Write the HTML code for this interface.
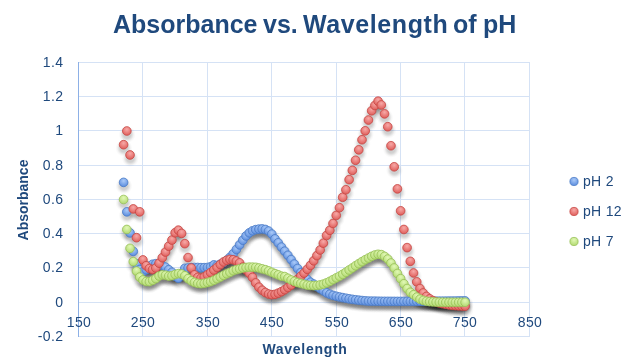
<!DOCTYPE html>
<html><head><meta charset="utf-8"><style>
html,body{margin:0;padding:0;background:#fff;}
body{width:629px;height:362px;position:relative;overflow:hidden;font-family:"Liberation Sans",sans-serif;color:#1F497D;}
.t{position:absolute;top:12px;font-weight:bold;font-size:25px;line-height:25px;white-space:nowrap;}
.yl{position:absolute;left:0;width:63.5px;text-align:right;font-size:14px;line-height:16px;letter-spacing:0.4px;}
.xl{position:absolute;top:314px;width:60px;text-align:center;font-size:14px;line-height:16px;letter-spacing:0.4px;}
.xt{position:absolute;left:205px;top:341px;width:200px;text-align:center;font-weight:bold;font-size:14px;line-height:16px;letter-spacing:0.7px;}
.yt{position:absolute;left:23px;top:200px;width:0;height:0;}
.yt span{position:absolute;left:-60px;top:-8px;width:120px;text-align:center;font-weight:bold;font-size:14px;line-height:16px;transform:rotate(-90deg);}
.lg{position:absolute;left:583px;font-size:14px;line-height:16px;letter-spacing:0.3px;}
svg{position:absolute;left:0;top:0;}
.t,.yl,.xl,.xt,.yt span,.lg{will-change:transform;}
</style></head><body>
<svg width="629" height="362" viewBox="0 0 629 362">
<defs><radialGradient id="gb" cx="50%" cy="32%" r="65%"><stop offset="0" stop-color="#abcaf8"/><stop offset="1" stop-color="#5e8fdf"/></radialGradient><radialGradient id="gr" cx="50%" cy="32%" r="65%"><stop offset="0" stop-color="#f7a9a7"/><stop offset="1" stop-color="#e0605d"/></radialGradient><radialGradient id="gg" cx="50%" cy="32%" r="65%"><stop offset="0" stop-color="#e2f9b6"/><stop offset="1" stop-color="#b3da73"/></radialGradient><radialGradient id="shg"><stop offset="0" stop-color="#000" stop-opacity="0.2"/><stop offset="0.45" stop-color="#000" stop-opacity="0.18000000000000002"/><stop offset="0.62" stop-color="#000" stop-opacity="0.11000000000000001"/><stop offset="0.8" stop-color="#000" stop-opacity="0.036"/><stop offset="1" stop-color="#000" stop-opacity="0"/></radialGradient>
<filter id="sh" x="-10%" y="-10%" width="120%" height="120%"><feGaussianBlur stdDeviation="2"/></filter>
</defs>
<g stroke="#d5e2f5" stroke-width="1"><line x1="78" y1="62.5" x2="530" y2="62.5"/><line x1="78" y1="96.5" x2="530" y2="96.5"/><line x1="78" y1="130.5" x2="530" y2="130.5"/><line x1="78" y1="165.5" x2="530" y2="165.5"/><line x1="78" y1="199.5" x2="530" y2="199.5"/><line x1="78" y1="233.5" x2="530" y2="233.5"/><line x1="78" y1="267.5" x2="530" y2="267.5"/><line x1="78" y1="302.5" x2="530" y2="302.5"/><line x1="78" y1="336.5" x2="530" y2="336.5"/><line x1="142.5" y1="62" x2="142.5" y2="337"/><line x1="207.5" y1="62" x2="207.5" y2="337"/><line x1="271.5" y1="62" x2="271.5" y2="337"/><line x1="336.5" y1="62" x2="336.5" y2="337"/><line x1="400.5" y1="62" x2="400.5" y2="337"/><line x1="464.5" y1="62" x2="464.5" y2="337"/><line x1="529.5" y1="62" x2="529.5" y2="337"/></g>
<line x1="78.5" y1="62" x2="78.5" y2="337" stroke="#8db0e6" stroke-width="1"/>
<g fill="url(#shg)" transform="translate(0.3,3.5)"><circle cx="123.60" cy="182.38" r="8.5"/><circle cx="126.82" cy="211.83" r="8.5"/><circle cx="130.04" cy="232.89" r="8.5"/><circle cx="133.26" cy="251.39" r="8.5"/><circle cx="136.49" cy="263.72" r="8.5"/><circle cx="139.71" cy="269.71" r="8.5"/><circle cx="142.93" cy="271.77" r="8.5"/><circle cx="146.15" cy="269.71" r="8.5"/><circle cx="149.37" cy="266.29" r="8.5"/><circle cx="152.59" cy="264.23" r="8.5"/><circle cx="155.81" cy="263.72" r="8.5"/><circle cx="159.04" cy="264.23" r="8.5"/><circle cx="162.26" cy="265.77" r="8.5"/><circle cx="165.48" cy="267.14" r="8.5"/><circle cx="168.70" cy="269.71" r="8.5"/><circle cx="171.92" cy="272.28" r="8.5"/><circle cx="175.14" cy="276.22" r="8.5"/><circle cx="178.36" cy="278.27" r="8.5"/><circle cx="181.59" cy="273.99" r="8.5"/><circle cx="184.81" cy="268.34" r="8.5"/><circle cx="188.03" cy="268.00" r="8.5"/><circle cx="191.25" cy="267.66" r="8.5"/><circle cx="194.47" cy="267.49" r="8.5"/><circle cx="197.69" cy="267.49" r="8.5"/><circle cx="200.91" cy="267.66" r="8.5"/><circle cx="204.14" cy="267.66" r="8.5"/><circle cx="207.36" cy="267.49" r="8.5"/><circle cx="210.58" cy="266.80" r="8.5"/><circle cx="213.80" cy="264.92" r="8.5"/><circle cx="217.02" cy="265.43" r="8.5"/><circle cx="220.24" cy="264.23" r="8.5"/><circle cx="223.46" cy="262.52" r="8.5"/><circle cx="226.69" cy="260.29" r="8.5"/><circle cx="229.91" cy="257.38" r="8.5"/><circle cx="233.13" cy="253.79" r="8.5"/><circle cx="236.35" cy="249.50" r="8.5"/><circle cx="239.57" cy="244.88" r="8.5"/><circle cx="242.79" cy="240.26" r="8.5"/><circle cx="246.01" cy="235.98" r="8.5"/><circle cx="249.24" cy="232.89" r="8.5"/><circle cx="252.46" cy="230.84" r="8.5"/><circle cx="255.68" cy="229.64" r="8.5"/><circle cx="258.90" cy="229.13" r="8.5"/><circle cx="262.12" cy="228.95" r="8.5"/><circle cx="265.34" cy="229.47" r="8.5"/><circle cx="268.56" cy="231.01" r="8.5"/><circle cx="271.79" cy="234.09" r="8.5"/><circle cx="275.01" cy="238.89" r="8.5"/><circle cx="278.23" cy="242.83" r="8.5"/><circle cx="281.45" cy="247.11" r="8.5"/><circle cx="284.67" cy="251.22" r="8.5"/><circle cx="287.89" cy="255.33" r="8.5"/><circle cx="291.11" cy="259.61" r="8.5"/><circle cx="294.34" cy="264.06" r="8.5"/><circle cx="297.56" cy="268.51" r="8.5"/><circle cx="300.78" cy="272.62" r="8.5"/><circle cx="304.00" cy="276.22" r="8.5"/><circle cx="307.22" cy="279.47" r="8.5"/><circle cx="310.44" cy="282.21" r="8.5"/><circle cx="313.66" cy="284.10" r="8.5"/><circle cx="316.89" cy="286.49" r="8.5"/><circle cx="320.11" cy="288.55" r="8.5"/><circle cx="323.33" cy="290.78" r="8.5"/><circle cx="326.55" cy="292.83" r="8.5"/><circle cx="329.77" cy="294.20" r="8.5"/><circle cx="332.99" cy="295.40" r="8.5"/><circle cx="336.21" cy="296.26" r="8.5"/><circle cx="339.44" cy="296.98" r="8.5"/><circle cx="342.66" cy="297.63" r="8.5"/><circle cx="345.88" cy="298.24" r="8.5"/><circle cx="349.10" cy="298.83" r="8.5"/><circle cx="352.32" cy="299.34" r="8.5"/><circle cx="355.54" cy="299.79" r="8.5"/><circle cx="358.76" cy="300.19" r="8.5"/><circle cx="361.99" cy="300.54" r="8.5"/><circle cx="365.21" cy="300.85" r="8.5"/><circle cx="368.43" cy="301.05" r="8.5"/><circle cx="371.65" cy="301.12" r="8.5"/><circle cx="374.87" cy="301.18" r="8.5"/><circle cx="378.09" cy="301.23" r="8.5"/><circle cx="381.31" cy="301.28" r="8.5"/><circle cx="384.54" cy="301.31" r="8.5"/><circle cx="387.76" cy="301.34" r="8.5"/><circle cx="390.98" cy="301.37" r="8.5"/><circle cx="394.20" cy="301.38" r="8.5"/><circle cx="397.42" cy="301.39" r="8.5"/><circle cx="400.64" cy="301.39" r="8.5"/><circle cx="403.86" cy="301.39" r="8.5"/><circle cx="407.09" cy="301.38" r="8.5"/><circle cx="410.31" cy="301.37" r="8.5"/><circle cx="413.53" cy="301.36" r="8.5"/><circle cx="416.75" cy="301.34" r="8.5"/><circle cx="419.97" cy="301.32" r="8.5"/><circle cx="423.19" cy="301.29" r="8.5"/><circle cx="426.41" cy="301.27" r="8.5"/><circle cx="429.64" cy="301.25" r="8.5"/><circle cx="432.86" cy="301.22" r="8.5"/><circle cx="436.08" cy="301.20" r="8.5"/><circle cx="439.30" cy="301.17" r="8.5"/><circle cx="442.52" cy="301.14" r="8.5"/><circle cx="445.74" cy="301.11" r="8.5"/><circle cx="448.96" cy="301.08" r="8.5"/><circle cx="452.19" cy="301.04" r="8.5"/><circle cx="455.41" cy="301.00" r="8.5"/><circle cx="458.63" cy="300.96" r="8.5"/><circle cx="461.85" cy="300.92" r="8.5"/><circle cx="465.07" cy="300.88" r="8.5"/><circle cx="123.60" cy="144.70" r="8.5"/><circle cx="126.82" cy="131.00" r="8.5"/><circle cx="130.04" cy="154.97" r="8.5"/><circle cx="133.26" cy="208.92" r="8.5"/><circle cx="136.49" cy="237.69" r="8.5"/><circle cx="139.71" cy="211.83" r="8.5"/><circle cx="142.93" cy="259.95" r="8.5"/><circle cx="146.15" cy="265.77" r="8.5"/><circle cx="149.37" cy="268.51" r="8.5"/><circle cx="152.59" cy="269.54" r="8.5"/><circle cx="155.81" cy="268.00" r="8.5"/><circle cx="159.04" cy="263.20" r="8.5"/><circle cx="162.26" cy="257.72" r="8.5"/><circle cx="165.48" cy="252.07" r="8.5"/><circle cx="168.70" cy="246.25" r="8.5"/><circle cx="171.92" cy="240.09" r="8.5"/><circle cx="175.14" cy="232.72" r="8.5"/><circle cx="178.36" cy="230.15" r="8.5"/><circle cx="181.59" cy="233.41" r="8.5"/><circle cx="184.81" cy="243.68" r="8.5"/><circle cx="188.03" cy="257.55" r="8.5"/><circle cx="191.25" cy="268.00" r="8.5"/><circle cx="194.47" cy="274.85" r="8.5"/><circle cx="197.69" cy="277.42" r="8.5"/><circle cx="200.91" cy="278.27" r="8.5"/><circle cx="204.14" cy="277.08" r="8.5"/><circle cx="207.36" cy="274.85" r="8.5"/><circle cx="210.58" cy="272.62" r="8.5"/><circle cx="213.80" cy="270.05" r="8.5"/><circle cx="217.02" cy="267.49" r="8.5"/><circle cx="220.24" cy="264.57" r="8.5"/><circle cx="223.46" cy="262.01" r="8.5"/><circle cx="226.69" cy="260.29" r="8.5"/><circle cx="229.91" cy="259.44" r="8.5"/><circle cx="233.13" cy="259.78" r="8.5"/><circle cx="236.35" cy="260.98" r="8.5"/><circle cx="239.57" cy="262.86" r="8.5"/><circle cx="242.79" cy="267.14" r="8.5"/><circle cx="246.01" cy="269.71" r="8.5"/><circle cx="249.24" cy="273.14" r="8.5"/><circle cx="252.46" cy="277.42" r="8.5"/><circle cx="255.68" cy="282.90" r="8.5"/><circle cx="258.90" cy="287.18" r="8.5"/><circle cx="262.12" cy="290.26" r="8.5"/><circle cx="265.34" cy="292.49" r="8.5"/><circle cx="268.56" cy="294.03" r="8.5"/><circle cx="271.79" cy="294.71" r="8.5"/><circle cx="275.01" cy="294.37" r="8.5"/><circle cx="278.23" cy="293.17" r="8.5"/><circle cx="281.45" cy="291.63" r="8.5"/><circle cx="284.67" cy="289.75" r="8.5"/><circle cx="287.89" cy="287.52" r="8.5"/><circle cx="291.11" cy="285.12" r="8.5"/><circle cx="294.34" cy="282.38" r="8.5"/><circle cx="297.56" cy="279.30" r="8.5"/><circle cx="300.78" cy="276.22" r="8.5"/><circle cx="304.00" cy="273.14" r="8.5"/><circle cx="307.22" cy="269.37" r="8.5"/><circle cx="310.44" cy="265.43" r="8.5"/><circle cx="313.66" cy="260.81" r="8.5"/><circle cx="316.89" cy="255.67" r="8.5"/><circle cx="320.11" cy="250.02" r="8.5"/><circle cx="323.33" cy="243.17" r="8.5"/><circle cx="326.55" cy="235.46" r="8.5"/><circle cx="329.77" cy="230.32" r="8.5"/><circle cx="332.99" cy="223.47" r="8.5"/><circle cx="336.21" cy="215.43" r="8.5"/><circle cx="339.44" cy="207.72" r="8.5"/><circle cx="342.66" cy="197.27" r="8.5"/><circle cx="345.88" cy="189.74" r="8.5"/><circle cx="349.10" cy="179.63" r="8.5"/><circle cx="352.32" cy="170.39" r="8.5"/><circle cx="355.54" cy="160.28" r="8.5"/><circle cx="358.76" cy="149.84" r="8.5"/><circle cx="361.99" cy="139.73" r="8.5"/><circle cx="365.21" cy="130.83" r="8.5"/><circle cx="368.43" cy="120.04" r="8.5"/><circle cx="371.65" cy="110.79" r="8.5"/><circle cx="374.87" cy="105.48" r="8.5"/><circle cx="378.09" cy="101.20" r="8.5"/><circle cx="381.31" cy="104.97" r="8.5"/><circle cx="384.54" cy="113.87" r="8.5"/><circle cx="387.76" cy="126.72" r="8.5"/><circle cx="390.98" cy="145.73" r="8.5"/><circle cx="394.20" cy="166.79" r="8.5"/><circle cx="397.42" cy="188.88" r="8.5"/><circle cx="400.64" cy="210.80" r="8.5"/><circle cx="403.86" cy="229.47" r="8.5"/><circle cx="407.09" cy="247.62" r="8.5"/><circle cx="410.31" cy="261.32" r="8.5"/><circle cx="413.53" cy="272.97" r="8.5"/><circle cx="416.75" cy="281.87" r="8.5"/><circle cx="419.97" cy="288.55" r="8.5"/><circle cx="423.19" cy="293.00" r="8.5"/><circle cx="426.41" cy="296.43" r="8.5"/><circle cx="429.64" cy="298.82" r="8.5"/><circle cx="432.86" cy="300.54" r="8.5"/><circle cx="436.08" cy="301.91" r="8.5"/><circle cx="439.30" cy="302.93" r="8.5"/><circle cx="442.52" cy="303.68" r="8.5"/><circle cx="445.74" cy="304.30" r="8.5"/><circle cx="448.96" cy="304.88" r="8.5"/><circle cx="452.19" cy="305.33" r="8.5"/><circle cx="455.41" cy="305.62" r="8.5"/><circle cx="458.63" cy="305.85" r="8.5"/><circle cx="461.85" cy="306.04" r="8.5"/><circle cx="465.07" cy="306.19" r="8.5"/><circle cx="123.60" cy="199.50" r="8.5"/><circle cx="126.82" cy="229.47" r="8.5"/><circle cx="130.04" cy="248.31" r="8.5"/><circle cx="133.26" cy="261.66" r="8.5"/><circle cx="136.49" cy="271.08" r="8.5"/><circle cx="139.71" cy="277.08" r="8.5"/><circle cx="142.93" cy="279.99" r="8.5"/><circle cx="146.15" cy="281.53" r="8.5"/><circle cx="149.37" cy="281.70" r="8.5"/><circle cx="152.59" cy="280.33" r="8.5"/><circle cx="155.81" cy="278.62" r="8.5"/><circle cx="159.04" cy="276.05" r="8.5"/><circle cx="162.26" cy="274.85" r="8.5"/><circle cx="165.48" cy="275.19" r="8.5"/><circle cx="168.70" cy="276.05" r="8.5"/><circle cx="171.92" cy="275.71" r="8.5"/><circle cx="175.14" cy="274.51" r="8.5"/><circle cx="178.36" cy="273.65" r="8.5"/><circle cx="181.59" cy="273.99" r="8.5"/><circle cx="184.81" cy="275.71" r="8.5"/><circle cx="188.03" cy="278.62" r="8.5"/><circle cx="191.25" cy="280.84" r="8.5"/><circle cx="194.47" cy="282.38" r="8.5"/><circle cx="197.69" cy="283.41" r="8.5"/><circle cx="200.91" cy="283.75" r="8.5"/><circle cx="204.14" cy="283.41" r="8.5"/><circle cx="207.36" cy="282.56" r="8.5"/><circle cx="210.58" cy="281.70" r="8.5"/><circle cx="213.80" cy="280.33" r="8.5"/><circle cx="217.02" cy="278.79" r="8.5"/><circle cx="220.24" cy="277.08" r="8.5"/><circle cx="223.46" cy="275.36" r="8.5"/><circle cx="226.69" cy="273.82" r="8.5"/><circle cx="229.91" cy="272.45" r="8.5"/><circle cx="233.13" cy="270.74" r="8.5"/><circle cx="236.35" cy="269.71" r="8.5"/><circle cx="239.57" cy="268.86" r="8.5"/><circle cx="242.79" cy="268.00" r="8.5"/><circle cx="246.01" cy="267.49" r="8.5"/><circle cx="249.24" cy="267.14" r="8.5"/><circle cx="252.46" cy="267.14" r="8.5"/><circle cx="255.68" cy="267.31" r="8.5"/><circle cx="258.90" cy="268.00" r="8.5"/><circle cx="262.12" cy="268.86" r="8.5"/><circle cx="265.34" cy="269.71" r="8.5"/><circle cx="268.56" cy="270.91" r="8.5"/><circle cx="271.79" cy="272.28" r="8.5"/><circle cx="275.01" cy="273.65" r="8.5"/><circle cx="278.23" cy="274.85" r="8.5"/><circle cx="281.45" cy="276.22" r="8.5"/><circle cx="284.67" cy="276.56" r="8.5"/><circle cx="287.89" cy="278.27" r="8.5"/><circle cx="291.11" cy="279.99" r="8.5"/><circle cx="294.34" cy="281.36" r="8.5"/><circle cx="297.56" cy="282.56" r="8.5"/><circle cx="300.78" cy="283.41" r="8.5"/><circle cx="304.00" cy="284.27" r="8.5"/><circle cx="307.22" cy="285.12" r="8.5"/><circle cx="310.44" cy="285.47" r="8.5"/><circle cx="313.66" cy="285.64" r="8.5"/><circle cx="316.89" cy="285.47" r="8.5"/><circle cx="320.11" cy="284.95" r="8.5"/><circle cx="323.33" cy="284.10" r="8.5"/><circle cx="326.55" cy="282.90" r="8.5"/><circle cx="329.77" cy="281.36" r="8.5"/><circle cx="332.99" cy="279.64" r="8.5"/><circle cx="336.21" cy="277.93" r="8.5"/><circle cx="339.44" cy="276.22" r="8.5"/><circle cx="342.66" cy="274.34" r="8.5"/><circle cx="345.88" cy="272.28" r="8.5"/><circle cx="349.10" cy="270.05" r="8.5"/><circle cx="352.32" cy="268.00" r="8.5"/><circle cx="355.54" cy="265.77" r="8.5"/><circle cx="358.76" cy="263.72" r="8.5"/><circle cx="361.99" cy="261.66" r="8.5"/><circle cx="365.21" cy="259.78" r="8.5"/><circle cx="368.43" cy="258.07" r="8.5"/><circle cx="371.65" cy="256.35" r="8.5"/><circle cx="374.87" cy="254.98" r="8.5"/><circle cx="378.09" cy="254.30" r="8.5"/><circle cx="381.31" cy="254.64" r="8.5"/><circle cx="384.54" cy="256.35" r="8.5"/><circle cx="387.76" cy="259.09" r="8.5"/><circle cx="390.98" cy="263.03" r="8.5"/><circle cx="394.20" cy="268.00" r="8.5"/><circle cx="397.42" cy="273.48" r="8.5"/><circle cx="400.64" cy="278.62" r="8.5"/><circle cx="403.86" cy="283.75" r="8.5"/><circle cx="407.09" cy="288.55" r="8.5"/><circle cx="410.31" cy="292.32" r="8.5"/><circle cx="413.53" cy="294.71" r="8.5"/><circle cx="416.75" cy="297.11" r="8.5"/><circle cx="419.97" cy="299.17" r="8.5"/><circle cx="423.19" cy="300.37" r="8.5"/><circle cx="426.41" cy="301.22" r="8.5"/><circle cx="429.64" cy="301.66" r="8.5"/><circle cx="432.86" cy="301.91" r="8.5"/><circle cx="436.08" cy="302.04" r="8.5"/><circle cx="439.30" cy="302.15" r="8.5"/><circle cx="442.52" cy="302.22" r="8.5"/><circle cx="445.74" cy="302.25" r="8.5"/><circle cx="448.96" cy="302.25" r="8.5"/><circle cx="452.19" cy="302.25" r="8.5"/><circle cx="455.41" cy="302.25" r="8.5"/><circle cx="458.63" cy="302.25" r="8.5"/><circle cx="461.85" cy="302.25" r="8.5"/><circle cx="465.07" cy="302.25" r="8.5"/></g>
<g fill="url(#gb)" stroke="#4a7bc6" stroke-width="0.8"><circle cx="123.60" cy="182.38" r="4.35"/><circle cx="126.82" cy="211.83" r="4.35"/><circle cx="130.04" cy="232.89" r="4.35"/><circle cx="133.26" cy="251.39" r="4.35"/><circle cx="136.49" cy="263.72" r="4.35"/><circle cx="139.71" cy="269.71" r="4.35"/><circle cx="142.93" cy="271.77" r="4.35"/><circle cx="146.15" cy="269.71" r="4.35"/><circle cx="149.37" cy="266.29" r="4.35"/><circle cx="152.59" cy="264.23" r="4.35"/><circle cx="155.81" cy="263.72" r="4.35"/><circle cx="159.04" cy="264.23" r="4.35"/><circle cx="162.26" cy="265.77" r="4.35"/><circle cx="165.48" cy="267.14" r="4.35"/><circle cx="168.70" cy="269.71" r="4.35"/><circle cx="171.92" cy="272.28" r="4.35"/><circle cx="175.14" cy="276.22" r="4.35"/><circle cx="178.36" cy="278.27" r="4.35"/><circle cx="181.59" cy="273.99" r="4.35"/><circle cx="184.81" cy="268.34" r="4.35"/><circle cx="188.03" cy="268.00" r="4.35"/><circle cx="191.25" cy="267.66" r="4.35"/><circle cx="194.47" cy="267.49" r="4.35"/><circle cx="197.69" cy="267.49" r="4.35"/><circle cx="200.91" cy="267.66" r="4.35"/><circle cx="204.14" cy="267.66" r="4.35"/><circle cx="207.36" cy="267.49" r="4.35"/><circle cx="210.58" cy="266.80" r="4.35"/><circle cx="213.80" cy="264.92" r="4.35"/><circle cx="217.02" cy="265.43" r="4.35"/><circle cx="220.24" cy="264.23" r="4.35"/><circle cx="223.46" cy="262.52" r="4.35"/><circle cx="226.69" cy="260.29" r="4.35"/><circle cx="229.91" cy="257.38" r="4.35"/><circle cx="233.13" cy="253.79" r="4.35"/><circle cx="236.35" cy="249.50" r="4.35"/><circle cx="239.57" cy="244.88" r="4.35"/><circle cx="242.79" cy="240.26" r="4.35"/><circle cx="246.01" cy="235.98" r="4.35"/><circle cx="249.24" cy="232.89" r="4.35"/><circle cx="252.46" cy="230.84" r="4.35"/><circle cx="255.68" cy="229.64" r="4.35"/><circle cx="258.90" cy="229.13" r="4.35"/><circle cx="262.12" cy="228.95" r="4.35"/><circle cx="265.34" cy="229.47" r="4.35"/><circle cx="268.56" cy="231.01" r="4.35"/><circle cx="271.79" cy="234.09" r="4.35"/><circle cx="275.01" cy="238.89" r="4.35"/><circle cx="278.23" cy="242.83" r="4.35"/><circle cx="281.45" cy="247.11" r="4.35"/><circle cx="284.67" cy="251.22" r="4.35"/><circle cx="287.89" cy="255.33" r="4.35"/><circle cx="291.11" cy="259.61" r="4.35"/><circle cx="294.34" cy="264.06" r="4.35"/><circle cx="297.56" cy="268.51" r="4.35"/><circle cx="300.78" cy="272.62" r="4.35"/><circle cx="304.00" cy="276.22" r="4.35"/><circle cx="307.22" cy="279.47" r="4.35"/><circle cx="310.44" cy="282.21" r="4.35"/><circle cx="313.66" cy="284.10" r="4.35"/><circle cx="316.89" cy="286.49" r="4.35"/><circle cx="320.11" cy="288.55" r="4.35"/><circle cx="323.33" cy="290.78" r="4.35"/><circle cx="326.55" cy="292.83" r="4.35"/><circle cx="329.77" cy="294.20" r="4.35"/><circle cx="332.99" cy="295.40" r="4.35"/><circle cx="336.21" cy="296.26" r="4.35"/><circle cx="339.44" cy="296.98" r="4.35"/><circle cx="342.66" cy="297.63" r="4.35"/><circle cx="345.88" cy="298.24" r="4.35"/><circle cx="349.10" cy="298.83" r="4.35"/><circle cx="352.32" cy="299.34" r="4.35"/><circle cx="355.54" cy="299.79" r="4.35"/><circle cx="358.76" cy="300.19" r="4.35"/><circle cx="361.99" cy="300.54" r="4.35"/><circle cx="365.21" cy="300.85" r="4.35"/><circle cx="368.43" cy="301.05" r="4.35"/><circle cx="371.65" cy="301.12" r="4.35"/><circle cx="374.87" cy="301.18" r="4.35"/><circle cx="378.09" cy="301.23" r="4.35"/><circle cx="381.31" cy="301.28" r="4.35"/><circle cx="384.54" cy="301.31" r="4.35"/><circle cx="387.76" cy="301.34" r="4.35"/><circle cx="390.98" cy="301.37" r="4.35"/><circle cx="394.20" cy="301.38" r="4.35"/><circle cx="397.42" cy="301.39" r="4.35"/><circle cx="400.64" cy="301.39" r="4.35"/><circle cx="403.86" cy="301.39" r="4.35"/><circle cx="407.09" cy="301.38" r="4.35"/><circle cx="410.31" cy="301.37" r="4.35"/><circle cx="413.53" cy="301.36" r="4.35"/><circle cx="416.75" cy="301.34" r="4.35"/><circle cx="419.97" cy="301.32" r="4.35"/><circle cx="423.19" cy="301.29" r="4.35"/><circle cx="426.41" cy="301.27" r="4.35"/><circle cx="429.64" cy="301.25" r="4.35"/><circle cx="432.86" cy="301.22" r="4.35"/><circle cx="436.08" cy="301.20" r="4.35"/><circle cx="439.30" cy="301.17" r="4.35"/><circle cx="442.52" cy="301.14" r="4.35"/><circle cx="445.74" cy="301.11" r="4.35"/><circle cx="448.96" cy="301.08" r="4.35"/><circle cx="452.19" cy="301.04" r="4.35"/><circle cx="455.41" cy="301.00" r="4.35"/><circle cx="458.63" cy="300.96" r="4.35"/><circle cx="461.85" cy="300.92" r="4.35"/><circle cx="465.07" cy="300.88" r="4.35"/></g><g fill="url(#gr)" stroke="#c64643" stroke-width="0.8"><circle cx="123.60" cy="144.70" r="4.35"/><circle cx="126.82" cy="131.00" r="4.35"/><circle cx="130.04" cy="154.97" r="4.35"/><circle cx="133.26" cy="208.92" r="4.35"/><circle cx="136.49" cy="237.69" r="4.35"/><circle cx="139.71" cy="211.83" r="4.35"/><circle cx="142.93" cy="259.95" r="4.35"/><circle cx="146.15" cy="265.77" r="4.35"/><circle cx="149.37" cy="268.51" r="4.35"/><circle cx="152.59" cy="269.54" r="4.35"/><circle cx="155.81" cy="268.00" r="4.35"/><circle cx="159.04" cy="263.20" r="4.35"/><circle cx="162.26" cy="257.72" r="4.35"/><circle cx="165.48" cy="252.07" r="4.35"/><circle cx="168.70" cy="246.25" r="4.35"/><circle cx="171.92" cy="240.09" r="4.35"/><circle cx="175.14" cy="232.72" r="4.35"/><circle cx="178.36" cy="230.15" r="4.35"/><circle cx="181.59" cy="233.41" r="4.35"/><circle cx="184.81" cy="243.68" r="4.35"/><circle cx="188.03" cy="257.55" r="4.35"/><circle cx="191.25" cy="268.00" r="4.35"/><circle cx="194.47" cy="274.85" r="4.35"/><circle cx="197.69" cy="277.42" r="4.35"/><circle cx="200.91" cy="278.27" r="4.35"/><circle cx="204.14" cy="277.08" r="4.35"/><circle cx="207.36" cy="274.85" r="4.35"/><circle cx="210.58" cy="272.62" r="4.35"/><circle cx="213.80" cy="270.05" r="4.35"/><circle cx="217.02" cy="267.49" r="4.35"/><circle cx="220.24" cy="264.57" r="4.35"/><circle cx="223.46" cy="262.01" r="4.35"/><circle cx="226.69" cy="260.29" r="4.35"/><circle cx="229.91" cy="259.44" r="4.35"/><circle cx="233.13" cy="259.78" r="4.35"/><circle cx="236.35" cy="260.98" r="4.35"/><circle cx="239.57" cy="262.86" r="4.35"/><circle cx="242.79" cy="267.14" r="4.35"/><circle cx="246.01" cy="269.71" r="4.35"/><circle cx="249.24" cy="273.14" r="4.35"/><circle cx="252.46" cy="277.42" r="4.35"/><circle cx="255.68" cy="282.90" r="4.35"/><circle cx="258.90" cy="287.18" r="4.35"/><circle cx="262.12" cy="290.26" r="4.35"/><circle cx="265.34" cy="292.49" r="4.35"/><circle cx="268.56" cy="294.03" r="4.35"/><circle cx="271.79" cy="294.71" r="4.35"/><circle cx="275.01" cy="294.37" r="4.35"/><circle cx="278.23" cy="293.17" r="4.35"/><circle cx="281.45" cy="291.63" r="4.35"/><circle cx="284.67" cy="289.75" r="4.35"/><circle cx="287.89" cy="287.52" r="4.35"/><circle cx="291.11" cy="285.12" r="4.35"/><circle cx="294.34" cy="282.38" r="4.35"/><circle cx="297.56" cy="279.30" r="4.35"/><circle cx="300.78" cy="276.22" r="4.35"/><circle cx="304.00" cy="273.14" r="4.35"/><circle cx="307.22" cy="269.37" r="4.35"/><circle cx="310.44" cy="265.43" r="4.35"/><circle cx="313.66" cy="260.81" r="4.35"/><circle cx="316.89" cy="255.67" r="4.35"/><circle cx="320.11" cy="250.02" r="4.35"/><circle cx="323.33" cy="243.17" r="4.35"/><circle cx="326.55" cy="235.46" r="4.35"/><circle cx="329.77" cy="230.32" r="4.35"/><circle cx="332.99" cy="223.47" r="4.35"/><circle cx="336.21" cy="215.43" r="4.35"/><circle cx="339.44" cy="207.72" r="4.35"/><circle cx="342.66" cy="197.27" r="4.35"/><circle cx="345.88" cy="189.74" r="4.35"/><circle cx="349.10" cy="179.63" r="4.35"/><circle cx="352.32" cy="170.39" r="4.35"/><circle cx="355.54" cy="160.28" r="4.35"/><circle cx="358.76" cy="149.84" r="4.35"/><circle cx="361.99" cy="139.73" r="4.35"/><circle cx="365.21" cy="130.83" r="4.35"/><circle cx="368.43" cy="120.04" r="4.35"/><circle cx="371.65" cy="110.79" r="4.35"/><circle cx="374.87" cy="105.48" r="4.35"/><circle cx="378.09" cy="101.20" r="4.35"/><circle cx="381.31" cy="104.97" r="4.35"/><circle cx="384.54" cy="113.87" r="4.35"/><circle cx="387.76" cy="126.72" r="4.35"/><circle cx="390.98" cy="145.73" r="4.35"/><circle cx="394.20" cy="166.79" r="4.35"/><circle cx="397.42" cy="188.88" r="4.35"/><circle cx="400.64" cy="210.80" r="4.35"/><circle cx="403.86" cy="229.47" r="4.35"/><circle cx="407.09" cy="247.62" r="4.35"/><circle cx="410.31" cy="261.32" r="4.35"/><circle cx="413.53" cy="272.97" r="4.35"/><circle cx="416.75" cy="281.87" r="4.35"/><circle cx="419.97" cy="288.55" r="4.35"/><circle cx="423.19" cy="293.00" r="4.35"/><circle cx="426.41" cy="296.43" r="4.35"/><circle cx="429.64" cy="298.82" r="4.35"/><circle cx="432.86" cy="300.54" r="4.35"/><circle cx="436.08" cy="301.91" r="4.35"/><circle cx="439.30" cy="302.93" r="4.35"/><circle cx="442.52" cy="303.68" r="4.35"/><circle cx="445.74" cy="304.30" r="4.35"/><circle cx="448.96" cy="304.88" r="4.35"/><circle cx="452.19" cy="305.33" r="4.35"/><circle cx="455.41" cy="305.62" r="4.35"/><circle cx="458.63" cy="305.85" r="4.35"/><circle cx="461.85" cy="306.04" r="4.35"/><circle cx="465.07" cy="306.19" r="4.35"/></g><g fill="url(#gg)" stroke="#97c056" stroke-width="0.8"><circle cx="123.60" cy="199.50" r="4.35"/><circle cx="126.82" cy="229.47" r="4.35"/><circle cx="130.04" cy="248.31" r="4.35"/><circle cx="133.26" cy="261.66" r="4.35"/><circle cx="136.49" cy="271.08" r="4.35"/><circle cx="139.71" cy="277.08" r="4.35"/><circle cx="142.93" cy="279.99" r="4.35"/><circle cx="146.15" cy="281.53" r="4.35"/><circle cx="149.37" cy="281.70" r="4.35"/><circle cx="152.59" cy="280.33" r="4.35"/><circle cx="155.81" cy="278.62" r="4.35"/><circle cx="159.04" cy="276.05" r="4.35"/><circle cx="162.26" cy="274.85" r="4.35"/><circle cx="165.48" cy="275.19" r="4.35"/><circle cx="168.70" cy="276.05" r="4.35"/><circle cx="171.92" cy="275.71" r="4.35"/><circle cx="175.14" cy="274.51" r="4.35"/><circle cx="178.36" cy="273.65" r="4.35"/><circle cx="181.59" cy="273.99" r="4.35"/><circle cx="184.81" cy="275.71" r="4.35"/><circle cx="188.03" cy="278.62" r="4.35"/><circle cx="191.25" cy="280.84" r="4.35"/><circle cx="194.47" cy="282.38" r="4.35"/><circle cx="197.69" cy="283.41" r="4.35"/><circle cx="200.91" cy="283.75" r="4.35"/><circle cx="204.14" cy="283.41" r="4.35"/><circle cx="207.36" cy="282.56" r="4.35"/><circle cx="210.58" cy="281.70" r="4.35"/><circle cx="213.80" cy="280.33" r="4.35"/><circle cx="217.02" cy="278.79" r="4.35"/><circle cx="220.24" cy="277.08" r="4.35"/><circle cx="223.46" cy="275.36" r="4.35"/><circle cx="226.69" cy="273.82" r="4.35"/><circle cx="229.91" cy="272.45" r="4.35"/><circle cx="233.13" cy="270.74" r="4.35"/><circle cx="236.35" cy="269.71" r="4.35"/><circle cx="239.57" cy="268.86" r="4.35"/><circle cx="242.79" cy="268.00" r="4.35"/><circle cx="246.01" cy="267.49" r="4.35"/><circle cx="249.24" cy="267.14" r="4.35"/><circle cx="252.46" cy="267.14" r="4.35"/><circle cx="255.68" cy="267.31" r="4.35"/><circle cx="258.90" cy="268.00" r="4.35"/><circle cx="262.12" cy="268.86" r="4.35"/><circle cx="265.34" cy="269.71" r="4.35"/><circle cx="268.56" cy="270.91" r="4.35"/><circle cx="271.79" cy="272.28" r="4.35"/><circle cx="275.01" cy="273.65" r="4.35"/><circle cx="278.23" cy="274.85" r="4.35"/><circle cx="281.45" cy="276.22" r="4.35"/><circle cx="284.67" cy="276.56" r="4.35"/><circle cx="287.89" cy="278.27" r="4.35"/><circle cx="291.11" cy="279.99" r="4.35"/><circle cx="294.34" cy="281.36" r="4.35"/><circle cx="297.56" cy="282.56" r="4.35"/><circle cx="300.78" cy="283.41" r="4.35"/><circle cx="304.00" cy="284.27" r="4.35"/><circle cx="307.22" cy="285.12" r="4.35"/><circle cx="310.44" cy="285.47" r="4.35"/><circle cx="313.66" cy="285.64" r="4.35"/><circle cx="316.89" cy="285.47" r="4.35"/><circle cx="320.11" cy="284.95" r="4.35"/><circle cx="323.33" cy="284.10" r="4.35"/><circle cx="326.55" cy="282.90" r="4.35"/><circle cx="329.77" cy="281.36" r="4.35"/><circle cx="332.99" cy="279.64" r="4.35"/><circle cx="336.21" cy="277.93" r="4.35"/><circle cx="339.44" cy="276.22" r="4.35"/><circle cx="342.66" cy="274.34" r="4.35"/><circle cx="345.88" cy="272.28" r="4.35"/><circle cx="349.10" cy="270.05" r="4.35"/><circle cx="352.32" cy="268.00" r="4.35"/><circle cx="355.54" cy="265.77" r="4.35"/><circle cx="358.76" cy="263.72" r="4.35"/><circle cx="361.99" cy="261.66" r="4.35"/><circle cx="365.21" cy="259.78" r="4.35"/><circle cx="368.43" cy="258.07" r="4.35"/><circle cx="371.65" cy="256.35" r="4.35"/><circle cx="374.87" cy="254.98" r="4.35"/><circle cx="378.09" cy="254.30" r="4.35"/><circle cx="381.31" cy="254.64" r="4.35"/><circle cx="384.54" cy="256.35" r="4.35"/><circle cx="387.76" cy="259.09" r="4.35"/><circle cx="390.98" cy="263.03" r="4.35"/><circle cx="394.20" cy="268.00" r="4.35"/><circle cx="397.42" cy="273.48" r="4.35"/><circle cx="400.64" cy="278.62" r="4.35"/><circle cx="403.86" cy="283.75" r="4.35"/><circle cx="407.09" cy="288.55" r="4.35"/><circle cx="410.31" cy="292.32" r="4.35"/><circle cx="413.53" cy="294.71" r="4.35"/><circle cx="416.75" cy="297.11" r="4.35"/><circle cx="419.97" cy="299.17" r="4.35"/><circle cx="423.19" cy="300.37" r="4.35"/><circle cx="426.41" cy="301.22" r="4.35"/><circle cx="429.64" cy="301.66" r="4.35"/><circle cx="432.86" cy="301.91" r="4.35"/><circle cx="436.08" cy="302.04" r="4.35"/><circle cx="439.30" cy="302.15" r="4.35"/><circle cx="442.52" cy="302.22" r="4.35"/><circle cx="445.74" cy="302.25" r="4.35"/><circle cx="448.96" cy="302.25" r="4.35"/><circle cx="452.19" cy="302.25" r="4.35"/><circle cx="455.41" cy="302.25" r="4.35"/><circle cx="458.63" cy="302.25" r="4.35"/><circle cx="461.85" cy="302.25" r="4.35"/><circle cx="465.07" cy="302.25" r="4.35"/></g>
<circle cx="574" cy="181.5" r="4.1" fill="url(#gb)" stroke="#4a7bc6" stroke-width="0.8"/><circle cx="574" cy="211.5" r="4.1" fill="url(#gr)" stroke="#c64643" stroke-width="0.8"/><circle cx="574" cy="241.5" r="4.1" fill="url(#gg)" stroke="#97c056" stroke-width="0.8"/>
</svg>
<div class="t" style="left:113px">Absorbance</div><div class="t" style="left:263px">vs.</div><div class="t" style="left:303px;letter-spacing:0.6px">Wavelength</div><div class="t" style="left:453px">of</div><div class="t" style="left:483px">pH</div>
<div class="yl" style="top:54.0px">1.4</div><div class="yl" style="top:88.0px">1.2</div><div class="yl" style="top:122.0px">1</div><div class="yl" style="top:157.0px">0.8</div><div class="yl" style="top:191.0px">0.6</div><div class="yl" style="top:225.0px">0.4</div><div class="yl" style="top:259.0px">0.2</div><div class="yl" style="top:294.0px">0</div><div class="yl" style="top:328.0px">-0.2</div>
<div class="xl" style="left:48.5px">150</div><div class="xl" style="left:112.5px">250</div><div class="xl" style="left:177.5px">350</div><div class="xl" style="left:241.5px">450</div><div class="xl" style="left:306.5px">550</div><div class="xl" style="left:370.5px">650</div><div class="xl" style="left:434.5px">750</div><div class="xl" style="left:499.5px">850</div>
<div class="xt">Wavelength</div>
<div class="yt"><span>Absorbance</span></div>
<div class="lg" style="top:172.5px">pH 2</div><div class="lg" style="top:202.5px">pH 12</div><div class="lg" style="top:232.5px">pH 7</div>
</body></html>
